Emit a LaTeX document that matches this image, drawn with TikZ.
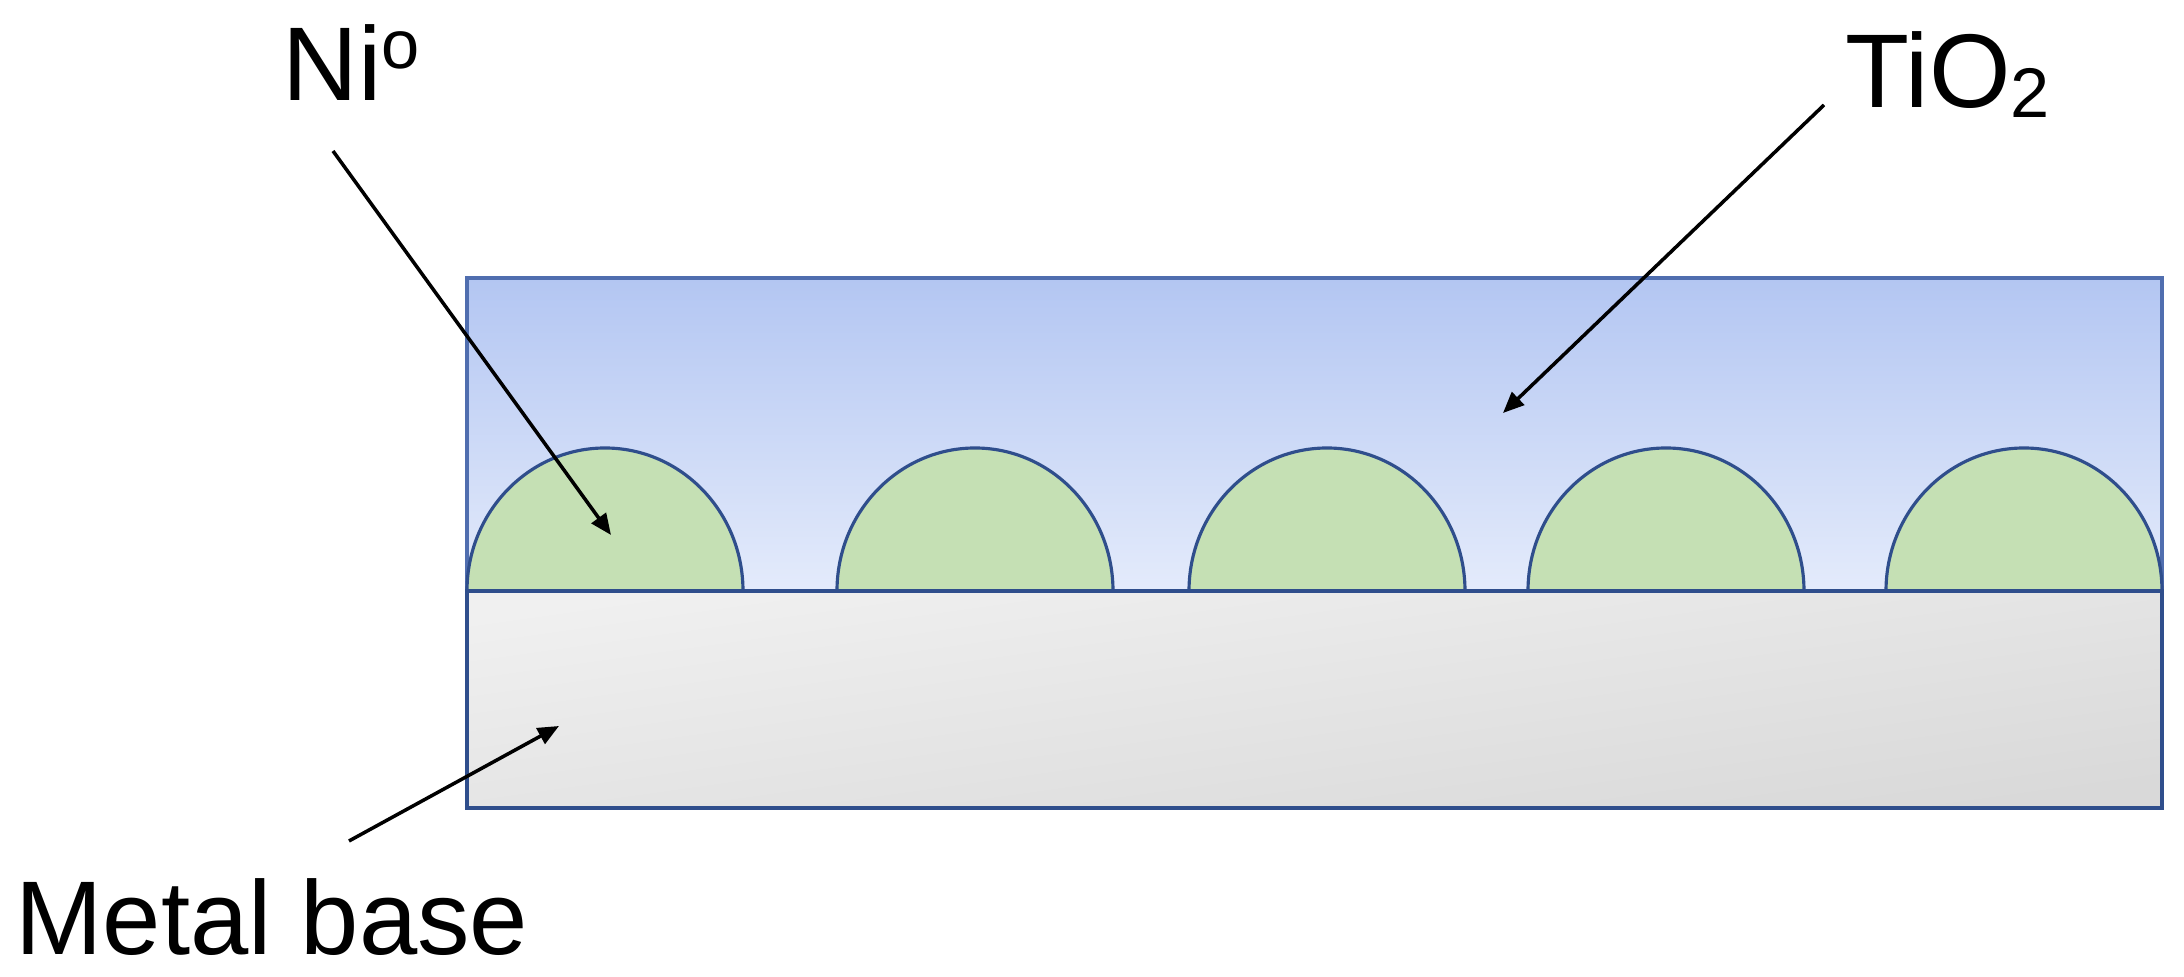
\documentclass[tikz,border=0pt]{standalone}
\usepackage{fontspec}
\setmainfont{Liberation Sans}
\usetikzlibrary{arrows.meta}
\definecolor{tiotop}{RGB}{179,198,242}
\definecolor{tiobot}{RGB}{228,235,251}
\definecolor{metaltop}{RGB}{240,240,240}
\definecolor{metalbot}{RGB}{217,217,217}
\definecolor{nigreen}{RGB}{197,224,180}
\definecolor{edgeblue}{RGB}{47,78,140}
\definecolor{edgelight}{RGB}{80,110,175}
\tikzset{
  lbl/.style={inner sep=0pt, anchor=base west, font=\fontsize{29.8}{36}\selectfont},
  pointer/.style={draw=black, line width=1pt, -{Triangle[length=6pt,width=5pt]}},
  layer/.style={line width=0.9pt},
  grain/.style={fill=nigreen, draw=edgeblue, line width=0.9pt},
}
\begin{document}
\begin{tikzpicture}[x=0.01cm, y=-0.01cm]
\useasboundingbox (0,0) rectangle (2184,977);
% TiO2 layer
\shade[top color=tiotop, bottom color=tiobot] (467,278) rectangle (2162,591);
\draw[layer, draw=edgelight] (467,591) -- (467,278) -- (2162,278) -- (2162,591);
% Ni grains
\foreach \cx/\nm in {605/g1, 975/g2, 1327/g3, 1666/g4, 2024/g5}{
  \filldraw[grain] (\cx-138,591) arc[start angle=180, end angle=360, x radius=138, y radius=143] -- cycle;
  \coordinate (\nm) at (\cx,591);
}
% Metal base
\shade[top color=metaltop, bottom color=metalbot, shading angle=8] (467,591) rectangle (2162,808);
\draw[layer, draw=edgeblue] (467,591) rectangle (2162,808);
% labels
\node[lbl] (ni) at (282,101) {Ni\raisebox{9.3pt}{\fontsize{19.5}{20}\selectfont o}};
\node[lbl] (tio) at (1845,108) {TiO\raisebox{-2.6pt}{\fontsize{20}{20}\selectfont 2}};
\node[lbl] (metal) at (15,955) {Metal base};
% pointer coordinates
\coordinate (niS) at (333,151);
\coordinate (niE) at (611,535);
\coordinate (tiS) at (1824,105);
\coordinate (tiE) at (1503,413);
\coordinate (meS) at (349,841);
\coordinate (meE) at (559,726);
\draw[pointer] (niS) -- (niE);
\draw[pointer] (tiS) -- (tiE);
\draw[pointer] (meS) -- (meE);
\end{tikzpicture}
\end{document}
